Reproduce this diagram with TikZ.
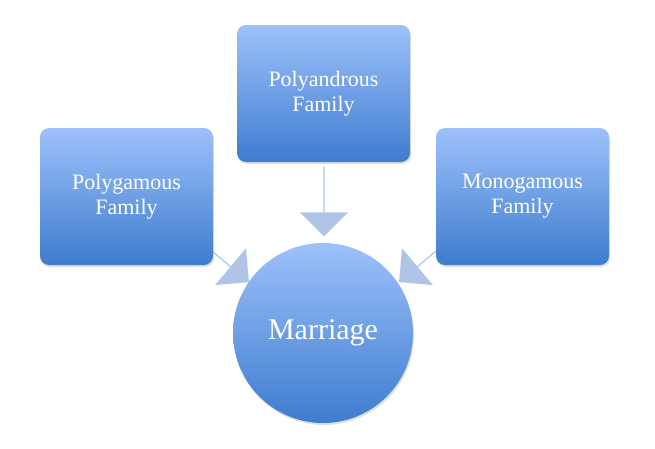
\documentclass[tikz,border=0pt]{standalone}
\usepackage{fontspec}
\setmainfont{Liberation Serif}
\usetikzlibrary{shapes.arrows,shadows}
\definecolor{topc}{HTML}{9DC1FA}
\definecolor{botc}{HTML}{3E7CCF}
\definecolor{arrc}{HTML}{AFC4E6}
\begin{document}
\begin{tikzpicture}[x=1pt,y=-1pt,
  box/.style={rounded corners=9pt,minimum width=173pt,minimum height=137pt,top color=topc,bottom color=botc,draw=none,text=white,font=\fontsize{22}{25}\selectfont,align=center,drop shadow={opacity=0.25,shadow xshift=1pt,shadow yshift=-2pt}},
  barrow/.style={single arrow,fill=arrc,draw=none,single arrow head extend=8pt,minimum height=70pt,minimum width=48pt,inner sep=0pt}]
\useasboundingbox (0,0) rectangle (655,448);
\node[barrow,rotate=-90] (a2) at (324,201) {};
\node[barrow,rotate=-40,minimum height=62pt] (a1) at (225,262) {};
\node[barrow,rotate=-140,minimum height=62pt] (a3) at (423,262) {};
\node[box] (p1) at (126.5,196.5) {Polygamous\\Family};
\node[box] (p2) at (323.5,93.5) {Polyandrous\\Family};
\node[box] (p3) at (522.5,196.5) {Monogamous\\Family};
\node[circle,minimum size=180pt,top color=topc,bottom color=botc,text=white,font=\fontsize{30}{34}\selectfont,drop shadow={opacity=0.25,shadow xshift=1pt,shadow yshift=-2pt}] (m) at (323,333) {Marriage};
\end{tikzpicture}
\end{document}
